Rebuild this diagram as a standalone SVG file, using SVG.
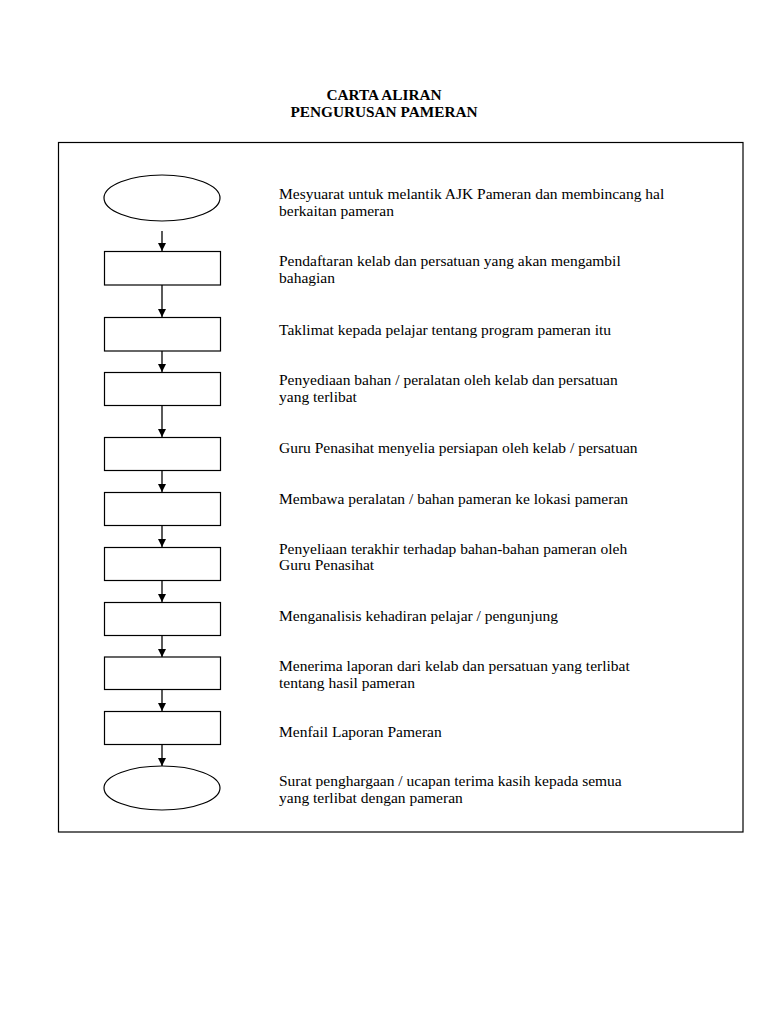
<svg xmlns="http://www.w3.org/2000/svg" width="768" height="1024" viewBox="0 0 768 1024">
<defs>
<marker id="ah" markerWidth="8" markerHeight="8" refX="8" refY="4" orient="auto" markerUnits="userSpaceOnUse">
<path d="M0,0 L8,4 L0,8 Z" fill="#000"/>
</marker>
<style>
.t{font-family:"Liberation Serif","Times New Roman",serif;font-size:15.5px;fill:#000}
.h{font-family:"Liberation Serif","Times New Roman",serif;font-size:15.3px;font-weight:bold;fill:#000}
.n{fill:#fff;stroke:#000;stroke-width:1.2}
.c{stroke:#000;stroke-width:1.3;fill:none;marker-end:url(#ah)}
</style>
</defs>
<rect width="768" height="1024" fill="#fff"/>
<text class="h" x="384" y="100" text-anchor="middle">CARTA ALIRAN</text>
<text class="h" x="384" y="116.5" text-anchor="middle">PENGURUSAN PAMERAN</text>
<rect x="58.5" y="142.5" width="684.5" height="689.5" fill="none" stroke="#000" stroke-width="1.2"/>
<g id="connectors">
<line class="c" x1="162" y1="231" x2="162" y2="251"/>
<line class="c" x1="162" y1="285" x2="162" y2="317"/>
<line class="c" x1="162" y1="351" x2="162" y2="372"/>
<line class="c" x1="162" y1="405" x2="162" y2="437"/>
<line class="c" x1="162" y1="470" x2="162" y2="492"/>
<line class="c" x1="162" y1="525" x2="162" y2="547"/>
<line class="c" x1="162" y1="580" x2="162" y2="602"/>
<line class="c" x1="162" y1="635" x2="162" y2="657"/>
<line class="c" x1="162" y1="690" x2="162" y2="711"/>
<line class="c" x1="162" y1="745" x2="162" y2="766"/>
</g>
<g id="n1"><ellipse class="n" cx="162" cy="198" rx="58" ry="23"/>
<text class="t" x="279" y="199">Mesyuarat untuk melantik AJK Pameran dan membincang hal</text>
<text class="t" x="279" y="216">berkaitan pameran</text></g>
<g id="n2"><rect class="n" x="104.5" y="251.5" width="116" height="33.5"/>
<text class="t" x="279" y="266">Pendaftaran kelab dan persatuan yang akan mengambil</text>
<text class="t" x="279" y="282.5">bahagian</text></g>
<g id="n3"><rect class="n" x="104.5" y="317.5" width="116" height="33.5"/>
<text class="t" x="279" y="335">Taklimat kepada pelajar tentang program pameran itu</text></g>
<g id="n4"><rect class="n" x="104.5" y="372.5" width="116" height="33"/>
<text class="t" x="279" y="385">Penyediaan bahan / peralatan oleh kelab dan persatuan</text>
<text class="t" x="279" y="401.5">yang terlibat</text></g>
<g id="n5"><rect class="n" x="104.5" y="437.5" width="116" height="33"/>
<text class="t" x="279" y="452.5">Guru Penasihat menyelia persiapan oleh kelab / persatuan</text></g>
<g id="n6"><rect class="n" x="104.5" y="492.5" width="116" height="33"/>
<text class="t" x="279" y="504">Membawa peralatan / bahan pameran ke lokasi pameran</text></g>
<g id="n7"><rect class="n" x="104.5" y="547.5" width="116" height="33"/>
<text class="t" x="279" y="553.5">Penyeliaan terakhir terhadap bahan-bahan pameran oleh</text>
<text class="t" x="279" y="570">Guru Penasihat</text></g>
<g id="n8"><rect class="n" x="104.5" y="602.5" width="116" height="33"/>
<text class="t" x="279" y="620.5">Menganalisis kehadiran pelajar / pengunjung</text></g>
<g id="n9"><rect class="n" x="104.5" y="657" width="116" height="32.5"/>
<text class="t" x="279" y="671">Menerima laporan dari kelab dan persatuan yang terlibat</text>
<text class="t" x="279" y="687.5">tentang hasil pameran</text></g>
<g id="n10"><rect class="n" x="104.5" y="711.5" width="116" height="33"/>
<text class="t" x="279" y="737">Menfail Laporan Pameran</text></g>
<g id="n11"><ellipse class="n" cx="162" cy="788" rx="58" ry="22"/>
<text class="t" x="279" y="786">Surat penghargaan / ucapan terima kasih kepada semua</text>
<text class="t" x="279" y="802.5">yang terlibat dengan pameran</text></g>
</svg>
